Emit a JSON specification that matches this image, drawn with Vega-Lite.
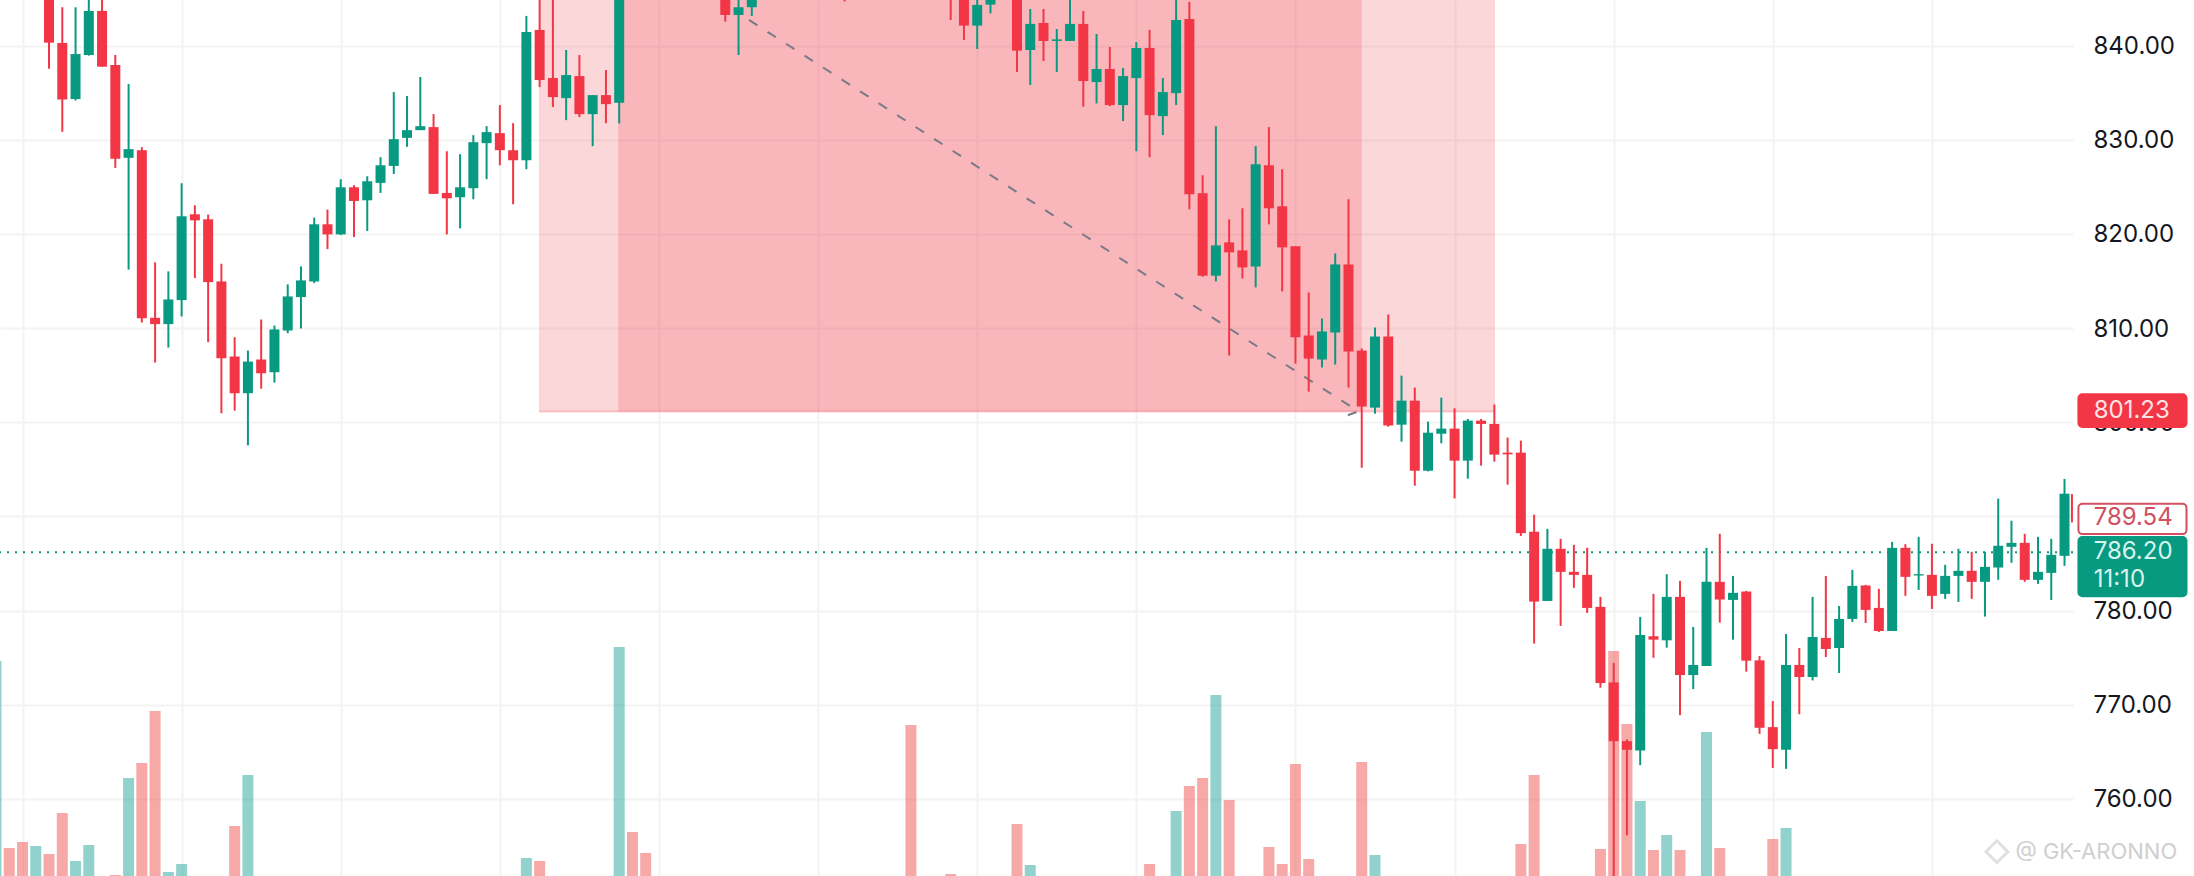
{
  "$schema": "https://vega.github.io/schema/vega-lite/v6.json",
  "description": "Candlestick chart with volume bars and a short position zone.",
  "width": 2073,
  "height": 876,
  "autosize": {"type": "none"},
  "padding": {"left": 0, "top": 0, "right": 121, "bottom": 0},
  "background": "#ffffff",
  "config": {"view": {"stroke": null}},
  "datasets": {
    "candles": [
      {"i":2,"o":846,"h":848,"l":837.55,"c":840.32,"d":"down"},
      {"i":3,"o":840.28,"h":844.08,"l":830.85,"c":834.29,"d":"down"},
      {"i":4,"o":834.33,"h":844.08,"l":834.18,"c":839.11,"d":"up"},
      {"i":5,"o":839.01,"h":845.2,"l":838.94,"c":843.69,"d":"up"},
      {"i":6,"o":843.69,"h":845,"l":837.77,"c":837.77,"d":"down"},
      {"i":7,"o":837.94,"h":839.01,"l":827.02,"c":827.98,"d":"down"},
      {"i":8,"o":828.09,"h":835.92,"l":816.21,"c":829.01,"d":"up"},
      {"i":9,"o":828.9,"h":829.22,"l":810.6,"c":811.06,"d":"down"},
      {"i":10,"o":811.1,"h":816.99,"l":806.35,"c":810.43,"d":"down"},
      {"i":11,"o":810.43,"h":816.03,"l":807.94,"c":813.05,"d":"up"},
      {"i":12,"o":812.98,"h":825.39,"l":811.24,"c":821.88,"d":"up"},
      {"i":13,"o":822.09,"h":823.05,"l":815.32,"c":821.45,"d":"down"},
      {"i":14,"o":821.56,"h":822.06,"l":808.51,"c":814.89,"d":"down"},
      {"i":15,"o":814.96,"h":816.84,"l":800.96,"c":806.81,"d":"down"},
      {"i":16,"o":806.99,"h":809.04,"l":801.24,"c":803.09,"d":"down"},
      {"i":17,"o":803.09,"h":807.62,"l":797.55,"c":806.45,"d":"up"},
      {"i":18,"o":806.67,"h":810.92,"l":803.58,"c":805.21,"d":"down"},
      {"i":19,"o":805.32,"h":810.28,"l":804.22,"c":809.86,"d":"up"},
      {"i":20,"o":809.75,"h":814.65,"l":809.47,"c":813.37,"d":"up"},
      {"i":21,"o":813.3,"h":816.56,"l":809.96,"c":815.07,"d":"up"},
      {"i":22,"o":814.96,"h":821.74,"l":814.79,"c":821.03,"d":"up"},
      {"i":23,"o":821.03,"h":822.59,"l":818.4,"c":819.96,"d":"down"},
      {"i":24,"o":819.96,"h":825.82,"l":819.89,"c":824.96,"d":"up"},
      {"i":25,"o":824.96,"h":825.18,"l":819.68,"c":823.51,"d":"down"},
      {"i":26,"o":823.58,"h":826.13,"l":820.32,"c":825.6,"d":"up"},
      {"i":27,"o":825.43,"h":828.16,"l":824.36,"c":827.3,"d":"up"},
      {"i":28,"o":827.23,"h":835.07,"l":826.38,"c":830.07,"d":"up"},
      {"i":29,"o":830.21,"h":834.65,"l":829.26,"c":831.03,"d":"up"},
      {"i":30,"o":831.03,"h":836.67,"l":831.03,"c":831.45,"d":"up"},
      {"i":31,"o":831.35,"h":832.73,"l":824.26,"c":824.26,"d":"down"},
      {"i":32,"o":824.36,"h":828.79,"l":819.96,"c":823.79,"d":"down"},
      {"i":33,"o":823.9,"h":828.47,"l":820.6,"c":824.96,"d":"up"},
      {"i":34,"o":824.86,"h":830.5,"l":823.69,"c":829.75,"d":"up"},
      {"i":35,"o":829.65,"h":831.45,"l":825.82,"c":830.82,"d":"up"},
      {"i":36,"o":830.71,"h":833.69,"l":827.3,"c":828.9,"d":"down"},
      {"i":37,"o":828.9,"h":831.77,"l":823.16,"c":827.84,"d":"down"},
      {"i":38,"o":827.84,"h":843.16,"l":826.88,"c":841.45,"d":"up"},
      {"i":39,"o":841.67,"h":848,"l":835.6,"c":836.35,"d":"down"},
      {"i":40,"o":836.56,"h":846,"l":833.48,"c":834.54,"d":"down"},
      {"i":41,"o":834.43,"h":839.54,"l":832.09,"c":836.88,"d":"up"},
      {"i":42,"o":836.77,"h":839.01,"l":832.41,"c":832.73,"d":"down"},
      {"i":43,"o":832.73,"h":834.75,"l":829.33,"c":834.75,"d":"up"},
      {"i":44,"o":834.75,"h":837.41,"l":831.77,"c":833.79,"d":"down"},
      {"i":45,"o":833.94,"h":848,"l":831.74,"c":846,"d":"up"},
      {"i":53,"o":846,"h":848,"l":842.55,"c":843.26,"d":"down"},
      {"i":54,"o":843.26,"h":846,"l":839.01,"c":844.08,"d":"up"},
      {"i":55,"o":844.08,"h":846,"l":843.16,"c":845.2,"d":"up"},
      {"i":62,"o":847,"h":848,"l":844.7,"c":846,"d":"down"},
      {"i":70,"o":848,"h":849,"l":842.73,"c":846,"d":"down"},
      {"i":71,"o":846,"h":848,"l":840.6,"c":842.13,"d":"down"},
      {"i":72,"o":842.13,"h":846,"l":839.65,"c":844.33,"d":"up"},
      {"i":73,"o":844.36,"h":847,"l":843.44,"c":846,"d":"up"},
      {"i":75,"o":846,"h":848,"l":837.2,"c":839.47,"d":"down"},
      {"i":76,"o":839.54,"h":843.9,"l":835.82,"c":842.31,"d":"up"},
      {"i":77,"o":842.41,"h":843.9,"l":838.37,"c":840.5,"d":"down"},
      {"i":78,"o":840.5,"h":841.77,"l":837.2,"c":840.67,"d":"up"},
      {"i":79,"o":840.5,"h":846,"l":840.5,"c":842.31,"d":"up"},
      {"i":80,"o":842.31,"h":843.69,"l":833.51,"c":836.24,"d":"down"},
      {"i":81,"o":836.13,"h":841.24,"l":833.87,"c":837.52,"d":"up"},
      {"i":82,"o":837.52,"h":839.86,"l":833.58,"c":833.69,"d":"down"},
      {"i":83,"o":833.69,"h":837.62,"l":831.99,"c":836.77,"d":"up"},
      {"i":84,"o":836.56,"h":840.39,"l":828.79,"c":839.75,"d":"up"},
      {"i":85,"o":839.75,"h":841.67,"l":828.16,"c":832.62,"d":"down"},
      {"i":86,"o":832.52,"h":836.56,"l":830.5,"c":835.07,"d":"up"},
      {"i":87,"o":834.96,"h":846,"l":833.69,"c":842.73,"d":"up"},
      {"i":88,"o":842.84,"h":844.65,"l":822.62,"c":824.22,"d":"down"},
      {"i":89,"o":824.33,"h":826.24,"l":815.46,"c":815.57,"d":"down"},
      {"i":90,"o":815.57,"h":831.45,"l":814.96,"c":818.79,"d":"up"},
      {"i":91,"o":819.11,"h":821.56,"l":807.09,"c":818.05,"d":"down"},
      {"i":92,"o":818.26,"h":822.73,"l":815.28,"c":816.45,"d":"down"},
      {"i":93,"o":816.56,"h":829.33,"l":814.33,"c":827.41,"d":"up"},
      {"i":94,"o":827.3,"h":831.35,"l":821.03,"c":822.73,"d":"down"},
      {"i":95,"o":822.94,"h":826.88,"l":813.9,"c":818.58,"d":"down"},
      {"i":96,"o":818.69,"h":818.69,"l":806.24,"c":809.04,"d":"down"},
      {"i":97,"o":809.22,"h":813.79,"l":803.26,"c":806.77,"d":"down"},
      {"i":98,"o":806.67,"h":811.03,"l":805.82,"c":809.65,"d":"up"},
      {"i":99,"o":809.54,"h":817.94,"l":806.13,"c":816.77,"d":"up"},
      {"i":100,"o":816.77,"h":823.69,"l":803.69,"c":807.52,"d":"down"},
      {"i":101,"o":807.62,"h":807.84,"l":795.18,"c":801.67,"d":"down"},
      {"i":102,"o":801.56,"h":810.07,"l":800.92,"c":809.11,"d":"up"},
      {"i":103,"o":809.11,"h":811.45,"l":799.54,"c":799.65,"d":"down"},
      {"i":104,"o":799.75,"h":804.96,"l":797.94,"c":802.3,"d":"up"},
      {"i":105,"o":802.3,"h":803.69,"l":793.27,"c":794.86,"d":"down"},
      {"i":106,"o":794.86,"h":800.07,"l":794.79,"c":798.9,"d":"up"},
      {"i":107,"o":798.79,"h":802.62,"l":797.77,"c":799.33,"d":"up"},
      {"i":108,"o":799.33,"h":801.49,"l":791.92,"c":795.93,"d":"down"},
      {"i":109,"o":795.93,"h":800.36,"l":794.01,"c":800.18,"d":"up"},
      {"i":110,"o":800.18,"h":800.36,"l":795.4,"c":799.83,"d":"down"},
      {"i":111,"o":799.83,"h":801.89,"l":795.82,"c":796.57,"d":"down"},
      {"i":112,"o":796.78,"h":798.38,"l":793.38,"c":796.6,"d":"down"},
      {"i":113,"o":796.78,"h":798.06,"l":787.92,"c":788.23,"d":"down"},
      {"i":114,"o":788.38,"h":790.19,"l":776.5,"c":780.96,"d":"down"},
      {"i":115,"o":781.03,"h":788.69,"l":781.03,"c":786.57,"d":"up"},
      {"i":116,"o":786.57,"h":787.63,"l":778.38,"c":784.12,"d":"down"},
      {"i":117,"o":784.12,"h":786.99,"l":782.42,"c":783.8,"d":"down"},
      {"i":118,"o":783.8,"h":786.67,"l":779.76,"c":780.29,"d":"down"},
      {"i":119,"o":780.4,"h":781.46,"l":771.82,"c":772.31,"d":"down"},
      {"i":120,"o":772.38,"h":774.44,"l":750,"c":766.14,"d":"down"},
      {"i":121,"o":766.14,"h":766.32,"l":756.14,"c":765.22,"d":"down"},
      {"i":122,"o":765.15,"h":779.33,"l":763.59,"c":777.42,"d":"up"},
      {"i":123,"o":777.28,"h":781.78,"l":775,"c":776.92,"d":"down"},
      {"i":124,"o":776.85,"h":783.87,"l":776.07,"c":781.46,"d":"up"},
      {"i":125,"o":781.46,"h":783.16,"l":768.91,"c":773.16,"d":"down"},
      {"i":126,"o":773.16,"h":778.27,"l":771.67,"c":774.23,"d":"up"},
      {"i":127,"o":774.12,"h":786.67,"l":774.12,"c":783.06,"d":"up"},
      {"i":128,"o":783.06,"h":788.16,"l":778.73,"c":781.18,"d":"down"},
      {"i":129,"o":781.14,"h":783.69,"l":776.92,"c":781.89,"d":"up"},
      {"i":130,"o":782.03,"h":782.1,"l":773.52,"c":774.69,"d":"down"},
      {"i":131,"o":774.72,"h":775.18,"l":766.92,"c":767.56,"d":"down"},
      {"i":132,"o":767.63,"h":770.4,"l":763.3,"c":765.29,"d":"down"},
      {"i":133,"o":765.22,"h":777.52,"l":763.2,"c":774.23,"d":"up"},
      {"i":134,"o":774.23,"h":776.03,"l":769,"c":772.95,"d":"down"},
      {"i":135,"o":772.95,"h":781.46,"l":772.59,"c":777.2,"d":"up"},
      {"i":136,"o":777.1,"h":783.69,"l":775.08,"c":775.93,"d":"down"},
      {"i":137,"o":776.03,"h":780.5,"l":773.38,"c":779.12,"d":"up"},
      {"i":138,"o":779.12,"h":784.33,"l":778.8,"c":782.63,"d":"up"},
      {"i":139,"o":782.67,"h":782.74,"l":778.69,"c":780.08,"d":"down"},
      {"i":140,"o":780.29,"h":782.31,"l":777.74,"c":777.84,"d":"down"},
      {"i":141,"o":777.84,"h":787.31,"l":777.84,"c":786.67,"d":"up"},
      {"i":142,"o":786.67,"h":787.06,"l":781.57,"c":783.59,"d":"down"},
      {"i":143,"o":783.73,"h":787.84,"l":782.2,"c":783.87,"d":"up"},
      {"i":144,"o":783.8,"h":787.1,"l":780.18,"c":781.57,"d":"down"},
      {"i":145,"o":781.78,"h":784.87,"l":781.25,"c":783.69,"d":"up"},
      {"i":146,"o":783.69,"h":786.57,"l":780.93,"c":784.23,"d":"up"},
      {"i":147,"o":784.23,"h":786.25,"l":781.25,"c":783.06,"d":"down"},
      {"i":148,"o":783.06,"h":786.25,"l":779.37,"c":784.65,"d":"up"},
      {"i":149,"o":784.58,"h":791.89,"l":783.27,"c":786.89,"d":"up"},
      {"i":150,"o":786.78,"h":789.55,"l":785.08,"c":787.2,"d":"up"},
      {"i":151,"o":787.2,"h":788.16,"l":783.06,"c":783.27,"d":"down"},
      {"i":152,"o":783.27,"h":787.84,"l":782.84,"c":784.12,"d":"up"},
      {"i":153,"o":784.01,"h":787.63,"l":781.14,"c":785.93,"d":"up"},
      {"i":154,"o":785.82,"h":793.98,"l":784.76,"c":792.42,"d":"up"}
    ],
    "volume": [
      {"i":-2,"v":215,"d":"up"},{"i":-1,"v":28,"d":"down"},{"i":0,"v":34,"d":"down"},{"i":1,"v":30,"d":"up"},
      {"i":2,"v":22,"d":"down"},{"i":3,"v":63,"d":"down"},{"i":4,"v":15,"d":"up"},{"i":5,"v":31,"d":"up"},
      {"i":7,"v":1,"d":"down"},{"i":8,"v":98,"d":"up"},{"i":9,"v":113,"d":"down"},{"i":10,"v":165,"d":"down"},
      {"i":11,"v":4,"d":"up"},{"i":12,"v":12,"d":"up"},{"i":16,"v":50,"d":"down"},{"i":17,"v":101,"d":"up"},
      {"i":38,"v":18,"d":"up"},{"i":39,"v":15,"d":"down"},{"i":45,"v":229,"d":"up"},{"i":46,"v":44,"d":"down"},
      {"i":47,"v":23,"d":"down"},{"i":67,"v":151,"d":"down"},{"i":70,"v":2,"d":"down"},{"i":75,"v":52,"d":"down"},
      {"i":76,"v":11,"d":"up"},{"i":85,"v":12,"d":"down"},{"i":87,"v":65,"d":"up"},{"i":88,"v":90,"d":"down"},
      {"i":89,"v":98,"d":"down"},{"i":90,"v":181,"d":"up"},{"i":91,"v":76,"d":"down"},{"i":94,"v":29,"d":"down"},
      {"i":95,"v":12,"d":"down"},{"i":96,"v":112,"d":"down"},{"i":97,"v":17,"d":"down"},{"i":101,"v":114,"d":"down"},
      {"i":102,"v":21,"d":"up"},{"i":113,"v":32,"d":"down"},{"i":114,"v":101,"d":"down"},{"i":119,"v":27,"d":"down"},
      {"i":120,"v":225,"d":"down"},{"i":121,"v":152,"d":"down"},{"i":122,"v":75,"d":"up"},{"i":123,"v":26,"d":"down"},
      {"i":124,"v":41,"d":"up"},{"i":125,"v":26,"d":"down"},{"i":127,"v":144,"d":"up"},{"i":128,"v":28,"d":"down"},
      {"i":132,"v":37,"d":"down"},{"i":133,"v":48,"d":"up"}
    ],
    "zones": [
      {"a":38.95,"b":111.05,"top":850,"bottom":801.14},
      {"a":44.93,"b":101.0,"top":850,"bottom":801.14}
    ],
    "path": [
      {"g":"trend","n":1,"i":54.79,"p":842.73},
      {"g":"trend","n":2,"i":100.65,"p":801.25},
      {"g":"barb","n":1,"i":99.95,"p":800.75},
      {"g":"barb","n":2,"i":100.6,"p":801.1}
    ],
    "boxes": [
      {"a":155.05,"b":163.2,"top":802.98,"bottom":799.5,"kind":"target"},
      {"a":155.05,"b":163.2,"top":791.36,"bottom":788.13,"kind":"entry"},
      {"a":155.05,"b":163.2,"top":787.83,"bottom":781.53,"kind":"last"}
    ],
    "labels": [
      {"t":"801.23","i":156.2,"p":801.25,"kind":"target"},
      {"t":"789.54","i":156.2,"p":789.8,"kind":"entry"},
      {"t":"786.20","i":156.2,"p":786.25,"kind":"last"},
      {"t":"11:10","i":156.2,"p":783.25,"kind":"last"}
    ]
  },
  "layer": [
    {
      "data": {"name": "volume"},
      "mark": {"type": "bar", "size": 11, "opacity": 0.5, "clip": true},
      "encoding": {
        "x": {
          "field": "i", "type": "quantitative",
          "scale": {"domain": [-1.697, 154.64], "nice": false, "zero": false, "padding": 0},
          "axis": {"values": [0,12,24,36,48,60,72,84,96,108,120,132,144], "grid": true, "gridColor": "#f3f3f4", "gridWidth": 2, "labels": false, "ticks": false, "domain": false, "title": null}
        },
        "y": {"field": "v", "type": "quantitative", "stack": null, "scale": {"domain": [0, 876], "nice": false}, "axis": null},
        "color": {"field": "d", "type": "nominal", "scale": {"domain": ["up", "down"], "range": ["#26a69a", "#ef5350"]}, "legend": null}
      }
    },
    {
      "resolve": {"scale": {"color": "independent"}},
      "layer": [
        {
          "data": {"name": "zones"},
          "mark": {"type": "rect", "color": "#f23645", "opacity": 0.2, "clip": true},
          "encoding": {
            "x": {"field": "a", "type": "quantitative", "scale": {"domain": [-1.697, 154.64], "nice": false, "zero": false, "padding": 0}},
            "x2": {"field": "b"},
            "y": {
              "field": "top", "type": "quantitative",
              "scale": {"domain": [751.82, 844.85], "nice": false, "zero": false, "padding": 0},
              "axis": {"orient": "right", "values": [760,770,780,790,800,810,820,830,840], "format": ".2f", "grid": true, "gridColor": "#f3f3f4", "gridWidth": 2, "labelFont": "Inter", "labelFontSize": 24, "labelColor": "#131722", "labelPadding": 20, "labelAlign": "left", "labelOffset": 1, "ticks": false, "domain": false, "title": null}
            },
            "y2": {"field": "bottom"}
          }
        },
        {
          "data": {"name": "zones"},
          "transform": [{"filter": "datum.a < 40"}],
          "mark": {"type": "rule", "color": "#f23645", "opacity": 0.25, "strokeWidth": 2},
          "encoding": {
            "x": {"field": "a", "type": "quantitative"},
            "x2": {"field": "b"},
            "y": {"field": "bottom", "type": "quantitative"}
          }
        },
        {
          "data": {"values": [{"p": 786.2}]},
          "mark": {"type": "rule", "color": "#089981", "strokeWidth": 2, "strokeDash": [2, 6]},
          "encoding": {
            "y": {"field": "p", "type": "quantitative"}
          }
        },
        {
          "data": {"name": "path"},
          "mark": {"type": "line", "color": "#787b86", "strokeWidth": 2, "strokeDash": [10, 12]},
          "encoding": {
            "x": {"field": "i", "type": "quantitative"},
            "y": {"field": "p", "type": "quantitative"},
            "detail": {"field": "g"},
            "order": {"field": "n"}
          }
        },
        {
          "data": {"name": "candles"},
          "mark": {"type": "rule", "strokeWidth": 2, "clip": true},
          "encoding": {
            "x": {"field": "i", "type": "quantitative"},
            "y": {"field": "h", "type": "quantitative"},
            "y2": {"field": "l"},
            "color": {"field": "d", "type": "nominal", "scale": {"domain": ["up", "down"], "range": ["#089981", "#f23645"]}, "legend": null}
          }
        },
        {
          "data": {"name": "candles"},
          "mark": {"type": "bar", "size": 10, "clip": true},
          "encoding": {
            "x": {"field": "i", "type": "quantitative"},
            "y": {"field": "o", "type": "quantitative"},
            "y2": {"field": "c"},
            "color": {"field": "d", "type": "nominal", "scale": {"domain": ["up", "down"], "range": ["#089981", "#f23645"]}, "legend": null}
          }
        },
        {
          "data": {"values": [{"i": 154.56, "h": 792.38, "l": 789.37}]},
          "mark": {"type": "rule", "strokeWidth": 2, "color": "#f23645", "clip": true},
          "encoding": {
            "x": {"field": "i", "type": "quantitative"},
            "y": {"field": "h", "type": "quantitative"},
            "y2": {"field": "l"}
          }
        },
        {
          "data": {"name": "boxes"},
          "mark": {"type": "rect", "cornerRadius": 4, "strokeWidth": 2},
          "encoding": {
            "x": {"field": "a", "type": "quantitative"},
            "x2": {"field": "b"},
            "y": {"field": "top", "type": "quantitative"},
            "y2": {"field": "bottom"},
            "fill": {"field": "kind", "type": "nominal", "scale": {"domain": ["target", "entry", "last"], "range": ["#f23645", "#ffffff", "#089981"]}, "legend": null},
            "stroke": {"field": "kind", "type": "nominal", "scale": {"domain": ["target", "entry", "last"], "range": ["#f23645", "#d0505f", "#089981"]}, "legend": null}
          }
        },
        {
          "data": {"name": "labels"},
          "mark": {"type": "text", "font": "Inter", "fontSize": 24, "align": "left", "baseline": "middle"},
          "encoding": {
            "x": {"field": "i", "type": "quantitative"},
            "y": {"field": "p", "type": "quantitative"},
            "text": {"field": "t"},
            "color": {"field": "kind", "type": "nominal", "scale": {"domain": ["target", "entry", "last"], "range": ["#fde3e5", "#d0505f", "#d8f3ec"]}, "legend": null}
          }
        },
        {
          "data": {"values": [{"i": 148.9, "p": 754.4}]},
          "mark": {"type": "point", "shape": "diamond", "size": 480, "filled": false, "color": "#d4d4d4", "strokeWidth": 3},
          "encoding": {
            "x": {"field": "i", "type": "quantitative"},
            "y": {"field": "p", "type": "quantitative"}
          }
        },
        {
          "data": {"values": [{"i": 150.3, "p": 754.4, "t": "@ GK-ARONNO"}]},
          "mark": {"type": "text", "font": "Inter", "fontSize": 22, "align": "left", "baseline": "middle", "color": "#cfcfcf"},
          "encoding": {
            "x": {"field": "i", "type": "quantitative"},
            "y": {"field": "p", "type": "quantitative"},
            "text": {"field": "t"}
          }
        }
      ]
    }
  ],
  "resolve": {"scale": {"y": "independent", "color": "independent"}}
}
